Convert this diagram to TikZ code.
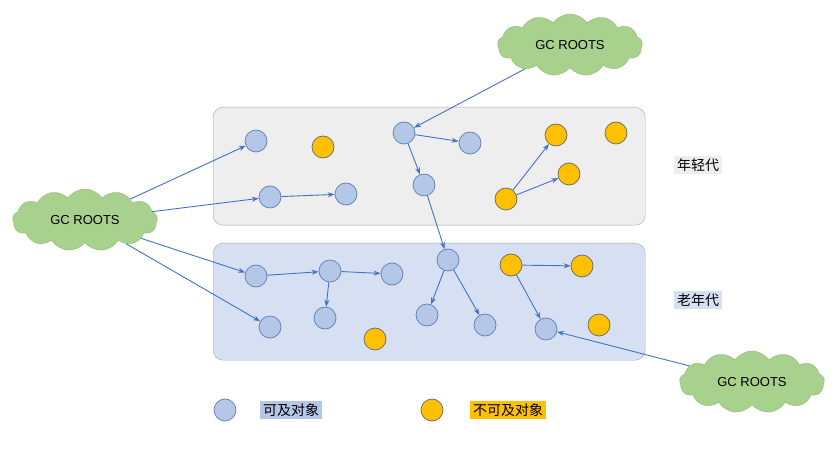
\documentclass[tikz,border=0pt]{standalone}
\usepackage{fontspec}
\setmainfont{Liberation Sans}
\newfontfamily\cjk{Noto Sans CJK SC}
\usetikzlibrary{shapes.symbols,arrows.meta}
\definecolor{bfill}{HTML}{B4C7E7}
\definecolor{bdraw}{HTML}{5B7DB8}
\definecolor{ofill}{HTML}{FFC000}
\definecolor{arr}{HTML}{4472C4}
\definecolor{cfill}{HTML}{A9D18E}
\definecolor{cdraw}{HTML}{8CB86E}
\begin{document}
\begin{tikzpicture}[x=1pt,y=-1pt,
 bo/.style={circle,minimum size=22pt,inner sep=0,fill=bfill,draw=bdraw,line width=0.7pt},
 oo/.style={circle,minimum size=22pt,inner sep=0,fill=ofill,draw=gray!80!black,line width=0.7pt},
 cl/.style={cloud,cloud puffs=13,cloud puff arc=110,aspect=2.3,fill=cfill,draw=cdraw,minimum width=145pt,minimum height=62pt,font=\fontsize{13}{15}\selectfont},
 ar/.style={draw=arr,line width=0.9pt,-{Stealth[length=7pt,width=5pt]}},
 lab/.style={font=\cjk\fontsize{14}{16}\selectfont,inner sep=3pt}]
\useasboundingbox (0,0) rectangle (838,454);
\node[draw=gray!70,fill=gray!13,rounded corners=10pt,minimum width=432pt,minimum height=118pt,anchor=north west] (young) at (213,107) {};
\node[draw=gray!70,fill=bfill!55,rounded corners=10pt,minimum width=432pt,minimum height=117pt,anchor=north west] (old) at (213,243) {};
\node[lab,fill=gray!13] (ly) at (698,165) {年轻代};
\node[lab,fill=bfill!55] (lo) at (698,300) {老年代};
\node[cl] (G1) at (85,220) {GC ROOTS};
\node[cl] (G2) at (570,45) {GC ROOTS};
\node[cl] (G3) at (752,382) {GC ROOTS};
\foreach \n/\x/\y in {b1/256/141,b2/404/133,b3/470/143,b4/424/185,b5/270/197,b6/346/194,b7/256/276,b8/330/271,b9/392/274,b10/448/260,b11/325/318,b12/270/327,b13/427/315,b14/485/325,b15/546/329}
 \node[bo] (\n) at (\x,\y) {};
\foreach \n/\x/\y in {o1/323/147,o2/556/135,o3/616/133,o4/569/174,o5/506/199,o6/511/265,o7/582/266,o8/375/339,o9/599/325}
 \node[oo] (\n) at (\x,\y) {};
\foreach \a/\b in {G1/b1,G1/b5,G1/b7,G1/b12,b5/b6,G2/b2,b2/b3,b2/b4,b4/b10,o5/o2,o5/o4,b7/b8,b8/b9,b8/b11,b10/b13,b10/b14,o6/o7,o6/b15,G3/b15}
 \draw[ar] (\a) -- (\b);
\node[bo] (lb) at (225,410) {};
\node[lab,fill=bfill] (lbt) at (291,410) {可及对象};
\node[oo] (lor) at (432,410) {};
\node[lab,fill=ofill] (lot) at (508,410) {不可及对象};
\end{tikzpicture}
\end{document}
